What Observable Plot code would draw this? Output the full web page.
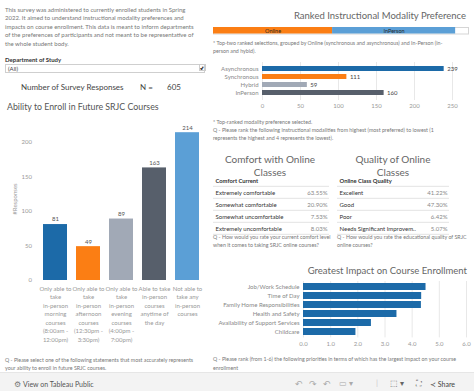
<!DOCTYPE html>
<html><head><meta charset="utf-8">
<script src="https://cdn.jsdelivr.net/npm/d3@7"></script>
<script src="https://cdn.jsdelivr.net/npm/@observablehq/plot@0.6"></script>
<style>
html,body{margin:0;padding:0}
body{width:474px;height:391px;overflow:hidden;background:#fff;position:relative;font-family:Lato,"Open Sans",sans-serif}
.t{position:absolute;white-space:nowrap;color:#777}
.p{position:absolute}
</style></head><body>
<script>
// ---------- DATA ----------
const enrollCategories = ["morning", "afternoon", "evening", "anytime", "none"];
const enrollValues = [81, 49, 89, 163, 214];
const enrollTickLabels = [
  "Only able to\ntake\nin-person\nmorning\ncourses\n(8:00am -\n12:00pm)",
  "Only able to\ntake\nin-person\nafternoon\ncourses\n(12:30pm -\n3:30pm)",
  "Only able to\ntake\nin-person\nevening\ncourses\n(4:00pm -\n7:00pm)",
  "Able to take\nin-person\ncourses\nanytime of\nthe day",
  "Not able to\ntake any\nin-person\ncourses"
];
const enrollYTicks = [0, 50, 100, 150, 200];

const prefGroups = ["Online", "InPerson"];
const prefValues = [565, 584];
const prefTotal = 1210;

const modalityCategories = ["Asynchronous", "Synchronous", "Hybrid", "InPerson"];
const modalityValues = [239, 111, 59, 160];
const modalityTicks = [0, 50, 100, 150, 200, 250];

const comfortHeader = "Comfort Current";
const comfortLabels = ["Extremely comfortable", "Somewhat comfortable", "Somewhat uncomfortable", "Extremely uncomfortable"];
const comfortValues = [63.55, 20.90, 7.53, 8.03];

const qualityHeader = "Online Class Quality";
const qualityLabels = ["Excellent", "Good", "Poor", "Needs Significant Improvem.."];
const qualityValues = [41.22, 47.30, 6.42, 5.07];

const impactCategories = ["Job/Work Schedule", "Time of Day", "Family Home Responsibilities", "Health and Safety", "Availability of Support Services", "Childcare"];
const impactValues = [4.51, 4.35, 4.34, 3.44, 2.50, 1.93];
const impactTicks = [0, 1, 2, 3, 4, 5, 6];

// ---------- STYLE ----------
const FONT = "Lato, 'Open Sans', sans-serif";
const darkBlue = "#1c6aa8", orange = "#fb7e14", lightGray = "#a1a9b6", slate = "#575f6b", lightBlue = "#5b9fd6";

function T(html, left, top, size, color, extra = "") {
  const d = document.createElement("div");
  d.className = "t";
  d.style.cssText = `left:${left}px;top:${top}px;font-size:${size}px;color:${color};${extra}`;
  d.innerHTML = html;
  document.body.appendChild(d);
  return d;
}
function place(node, left, top) {
  const d = document.createElement("div");
  d.className = "p";
  d.style.left = left + "px"; d.style.top = top + "px";
  d.appendChild(node);
  document.body.appendChild(d);
}
const baseStyle = (fs) => ({fontFamily: FONT, fontSize: fs + "px", background: "transparent", overflow: "visible", color: "#777"});

// ---------- LEFT TEXT ----------
T("This survey was administered to currently enrolled students in Spring<br>2022. It aimed to understand instructional modality preferences and<br>impacts on course enrollment. This data is meant to inform departments<br>of the preferences of participants and not meant to be representative of<br>the whole student body.", 5, 5.7, 6, "#777", "line-height:8.6px");
T("Department of Study", 5, 56, 6, "#333", "font-weight:bold;line-height:8px");
const dd = document.createElement("div");
dd.className = "p";
dd.style.cssText = "left:5px;top:64px;width:200px;height:9px;border:1px solid #cfcfcf;box-sizing:border-box;";
document.body.appendChild(dd);
T("(All)", 8, 65, 6, "#444", "line-height:8px");
T("▾", 200, 64.5, 6, "#444", "line-height:8px");
T("Number of Survey Responses", 21, 82, 8, "#444", "line-height:10px");
T("N =", 140, 82, 8, "#444", "line-height:10px");
T("605", 167, 82, 8, "#444", "line-height:10px");
T("Ability to Enroll in Future SRJC Courses", 7, 101, 8.8, "#555", "line-height:12px");

// ---------- LEFT BAR CHART ----------
const enrollData = enrollCategories.map((c, i) => ({cat: c, n: enrollValues[i]}));
const leftChart = Plot.plot({
  width: 210, height: 236,
  marginLeft: 33.5, marginRight: 1.5, marginTop: 5, marginBottom: 68,
  style: baseStyle(6),
  x: {domain: enrollCategories, padding: 0.26, axis: null},
  y: {domain: [0, 236], axis: null},
  color: {domain: enrollCategories, range: [darkBlue, orange, lightGray, slate, lightBlue]},
  marks: [
    Plot.barY(enrollData, {x: "cat", y: "n", fill: "cat"}),
    Plot.text(enrollData, {x: "cat", y: "n", text: d => String(d.n), dy: -5, fill: "#555", fontSize: 6}),
    Plot.axisY({ticks: enrollYTicks, tickSize: 0, tickPadding: 2, fontSize: 6, fill: "#999",
      label: "#Responses", labelAnchor: "center", labelArrow: "none", labelOffset: 21}),
    Plot.axisX({tickSize: 0, tickPadding: 4, fontSize: 6, fill: "#999", lineHeight: 1.42, label: null,
      tickFormat: d => enrollTickLabels[enrollCategories.indexOf(d)]})
  ]
});
place(leftChart, 0, 112);

T("Q - Please select one of the following statements that most accurately represents<br>your ability to enroll in future SRJC courses.", 5, 356, 5.3, "#777", "line-height:8.4px");

// ---------- RIGHT: RANKED PREFERENCE ----------
T("Ranked Instructional Modality Preference", 0, 9.5, 9.5, "#666", "line-height:12px;left:auto;right:8px");
const prefData = prefGroups.map((g, i) => ({group: g, n: prefValues[i]}));
const prefChart = Plot.plot({
  width: 274, height: 13, marginLeft: 13, marginRight: 6, marginTop: 3, marginBottom: 3.5,
  style: baseStyle(5.5),
  x: {domain: [0, prefTotal], axis: null},
  color: {domain: prefGroups, range: [orange, lightBlue]},
  marks: [
    Plot.frame({stroke: "#d5d5d5", fill: "#fff"}),
    Plot.barX(prefData, {x: "n", fill: "group"}),
    Plot.text(prefData, Plot.stackX({x: "n", text: "group", fill: "#2a2a2a", fontSize: 5.5}))
  ]
});
place(prefChart, 200, 24);
T("* Top-two ranked selections, grouped by Online (synchronous and asynchronous) and In-Person (in-<br>person and hybid).", 213, 38.5, 5.3, "#777", "line-height:8px");

const box = document.createElement("div");
box.className = "p";
box.style.cssText = "left:199px;top:64px;width:7px;height:7px;border:1px solid #ccc;box-sizing:border-box;font-size:5px;line-height:5px;text-align:center;color:#333";
box.textContent = "▪";
document.body.appendChild(box);

const modData = modalityCategories.map((c, i) => ({cat: c, n: modalityValues[i]}));
const modChart = Plot.plot({
  width: 274, height: 52, marginLeft: 62, marginRight: 6, marginTop: 2, marginBottom: 12,
  style: baseStyle(6),
  x: {domain: [0, 271], axis: null},
  y: {domain: modalityCategories, padding: 0.32, axis: null},
  color: {domain: modalityCategories, range: [darkBlue, orange, lightGray, slate]},
  marks: [
    Plot.gridX({ticks: modalityTicks, stroke: "#e8e8e8", strokeOpacity: 1}),
    Plot.barX(modData, {x: "n", y: "cat", fill: "cat"}),
    Plot.text(modData, {x: "n", y: "cat", text: d => String(d.n), dx: 3, textAnchor: "start", fill: "#444", fontSize: 6}),
    Plot.axisY({tickSize: 0, tickPadding: 4, fontSize: 6, fill: "#888", label: null}),
    Plot.axisX({ticks: modalityTicks, tickSize: 0, tickPadding: 3, fontSize: 6, fill: "#999", label: null})
  ]
});
place(modChart, 200, 60);

T("* Top-ranked modality preference selected.", 213, 117.5, 5.3, "#777", "line-height:8px");
T("Q - Please rank the following instructional modalities from highest (most preferred) to lowest (1<br>represents the highest and 4 represents the lowest).", 213, 126, 5.3, "#777", "line-height:8.3px");

// ---------- TABLES ----------
T("Comfort with Online<br>Classes", 190, 152.5, 10, "#666", "line-height:13px;width:160px;text-align:center");
T("Quality of Online<br>Classes", 313, 152.5, 10, "#666", "line-height:13px;width:160px;text-align:center");

function table(header, labels, values, w) {
  const rows = [header, ...labels];
  const h = 48;
  const data = labels.map((l, i) => ({label: l, value: values[i]}));
  return Plot.plot({
    width: w, height: h, margin: 0,
    style: baseStyle(6),
    x: {axis: null},
    y: {domain: rows, padding: 0, axis: null},
    marks: [
      Plot.ruleY(rows, {y: d => d, dy: h / rows.length / 2, stroke: "#e3e3e3"}),
      Plot.text([header], {y: d => d, text: d => d, frameAnchor: "left", textAnchor: "start", dx: 2, fontWeight: "bold", fill: "#333", fontSize: 5.8}),
      Plot.text(data, {y: "label", text: "label", frameAnchor: "left", textAnchor: "start", dx: 2, fill: "#333"}),
      Plot.text(data, {y: "label", text: d => d.value.toFixed(2) + "%", frameAnchor: "right", textAnchor: "end", dx: -2, fill: "#888"})
    ]
  });
}
place(table(comfortHeader, comfortLabels, comfortValues, 116), 213, 181.2);
place(table(qualityHeader, qualityLabels, qualityValues, 112), 337, 181.2);

T("Q - How would you rate your current comfort level<br>when it comes to taking SRJC online courses?", 213, 233, 5.3, "#777", "line-height:8px");
T("Q - How would you rate the educational quality of SRJC<br>online courses?", 337, 233, 5.3, "#777", "line-height:8px");

// ---------- IMPACT ----------
T("Greatest Impact on Course Enrollment", 0, 265, 9.5, "#666", "line-height:12px;left:auto;right:7px");
const impData = impactCategories.map((c, i) => ({cat: c, v: impactValues[i]}));
const impChart = Plot.plot({
  width: 274, height: 70, marginLeft: 103, marginRight: 8, marginTop: 1, marginBottom: 12.6,
  style: baseStyle(6),
  x: {domain: [0, 6], axis: null},
  y: {domain: impactCategories, padding: 0.25, axis: null},
  marks: [
    Plot.gridX({ticks: impactTicks, stroke: "#e8e8e8", strokeOpacity: 1}),
    Plot.barX(impData, {x: "v", y: "cat", fill: darkBlue}),
    Plot.axisY({tickSize: 0, tickPadding: 4, fontSize: 6, fill: "#888", label: null}),
    Plot.axisX({ticks: impactTicks, tickSize: 0, tickPadding: 4, fontSize: 6, fill: "#999", label: null})
  ]
});
place(impChart, 200, 280);
T("Q - Please rank (from 1-6) the following priorities in terms of which has the largest impact on your course<br>enrollment", 213, 355.3, 5.3, "#777", "line-height:8.4px");

// ---------- TOOLBAR ----------
const bar = document.createElement("div");
bar.className = "p";
bar.style.cssText = "left:0;top:372px;width:474px;height:19px;background:#f3f3f3;border-top:1px solid #e6e6e6";
document.body.appendChild(bar);
T("⚙", 14, 378.5, 8, "#777", "line-height:10px");
T("View on Tableau Public", 23, 379, 7, "#555", "line-height:10px");
T("↶", 295, 377.5, 9, "#aaa", "line-height:11px");
T("↷", 309, 377.5, 9, "#aaa", "line-height:11px");
T("↶", 323, 377.5, 9, "#aaa", "line-height:11px");
T("▭ ▾", 339, 377.5, 8, "#aaa", "line-height:11px");
T("|", 376, 377.5, 8, "#ccc", "line-height:11px");
T("⬚ ▾", 390, 377.5, 8, "#666", "line-height:11px");
T("⛶", 416, 377.5, 8, "#666", "line-height:11px");
T("≺ Share", 430, 378.5, 7, "#444", "line-height:10px");
</script>
</body></html>
